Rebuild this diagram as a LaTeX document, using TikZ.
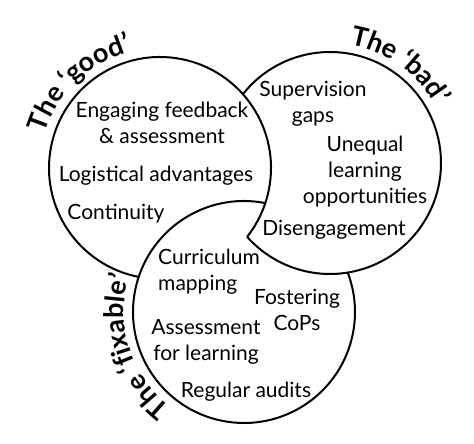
\documentclass[tikz,border=0pt]{standalone}
\usepackage{fontspec}
\setmainfont{Lato}
\usepackage{tikz}
\usetikzlibrary{decorations.text}

\newcommand\lblfont{\bfseries\fontsize{27}{27}\selectfont}

\begin{document}
\begin{tikzpicture}[x=1pt, y=1pt,
    ring/.style={line width=2pt},
    txt/.style={font=\fontsize{21}{26}\selectfont, align=center, inner sep=0pt}]
    \useasboundingbox (0,0) rectangle (474,444);

    % circle centres
    \coordinate (good) at (160,276);
    \coordinate (bad) at (330,281);
    \coordinate (fix) at (244,132);

    % the three rings, each one tucked under the next
    \draw[ring] (good) ++(258.9:111) arc[start angle=258.9, end angle=-38.3, radius=111];
    \draw[ring] (bad) ++(141.7:111) arc[start angle=141.7, end angle=-138.3, radius=111];
    \draw[ring] (fix) ++(78.9:111) arc[start angle=78.9, end angle=380.8, radius=111];

    % curved titles
    \path[decorate, decoration={text along path, text align=center,
        text={|\lblfont|The ‘good’}}]
        (good) ++(188.5:120) arc[start angle=188.5, end angle=78.5, radius=120];
    \path[decorate, decoration={text along path, text align=center,
        text={|\lblfont|The ‘bad’}}]
        (bad) ++(109.5:120) arc[start angle=109.5, end angle=-0.5, radius=120];
    \path[decorate, decoration={text along path, text align=center,
        text={|\lblfont|The ‘fixable’}}]
        (fix) ++(252.7:120) arc[start angle=252.7, end angle=142.7, radius=120];

    % the good
    \node[txt] (engage) at (162,321) {Engaging feedback\\\& assessment};
    \node[txt] (logist) at (156,268) {Logistical advantages};
    \node[txt] (contin) at (116,230) {Continuity};

    % the bad
    \node[txt] (superv) at (313,340) {Supervision\\gaps};
    \node[txt] (unequal) at (365,272) {Unequal\\learning\\opportunities};
    \node[txt] (diseng) at (334,214) {Disengagement};

    % the fixable
    \node[txt, align=left] (curric) at (209,172) {Curriculum\\mapping};
    \node[txt] (foster) at (297,134) {Fostering\\CoPs};
    \node[txt] (assess) at (206,102) {Assessment\\for learning};
    \node[txt] (audits) at (246,52) {Regular audits};
\end{tikzpicture}
\end{document}
